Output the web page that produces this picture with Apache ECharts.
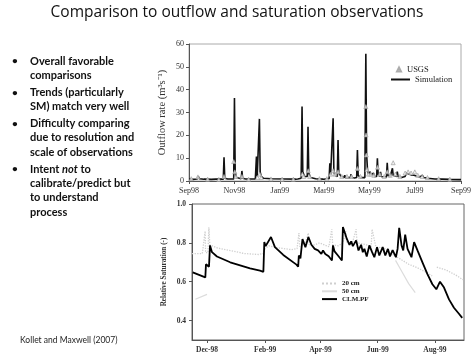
<!DOCTYPE html>
<html><head><meta charset="utf-8">
<script src="https://cdn.jsdelivr.net/npm/echarts@6/dist/echarts.min.js"></script>
<style>html,body{margin:0;padding:0;background:#fff}#c{width:474px;height:355px}</style>
</head><body><div id="c"></div>
<script>
const titleText = 'Comparison to outflow and saturation observations';
const bullets = [
  ['Overall favorable', 'comparisons'],
  ['Trends (particularly', 'SM) match very well'],
  ['Difficulty comparing', 'due to resolution and', 'scale of observations'],
  ['Intent {i|not} to', 'calibrate/predict but', 'to understand', 'process']
];
const citation = 'Kollet and Maxwell (2007)';

// Top chart: outflow (days since 1 Sep 1998)
const flowTickDays = [0, 61, 122, 181, 242, 303, 365];
const flowTickLabels = ['Sep98', 'Nov98', 'Jan99', 'Mar99', 'May99', 'Jul99', 'Sep99'];
const simDays = [0,5,11,12.5,14,20,30,36,37,38,46,47,48,52,60,61,62,63.5,66,70,71,72,76,89,90.5,91.5,93,94.5,95.5,97,100,110,130,143,145,146,150.5,151.7,152.7,155,158.7,159.7,160.7,163,170,180,188,189,190,192,193.4,194.4,196,199,200,201,204,208,209,210,216.5,217.5,218.5,222,225,226,227,230,236,237.3,238.3,239.5,241,243,244,246.5,247.5,248.5,251.8,252.8,253.8,256,257,258,262,265,266,267,270,272,273,274,276,278.5,279.5,280.5,285,290,292,294,296,299,302,303,305,310,313,315,320,330,340,350,365];
const simFlow = [0.8,0.7,0.9,1.9,1.0,0.8,0.7,0.8,1.5,0.8,0.8,10.4,1.2,0.9,0.9,36.3,4,1.5,1.0,1.0,4.4,1.2,0.9,0.9,10.7,2,1.5,27.2,4,2,1.2,1.0,0.9,0.8,1.5,0.9,1.2,32.6,4,2,2,23.8,3.5,1.5,1.0,0.8,1.0,7.8,2.5,2,27.5,4,2.5,2.0,18,3.5,2,1.5,2.5,1.5,1.5,3,1.5,1.3,1.5,13.6,2.5,1.5,1.5,55.7,12,5,3,4.1,2.5,2,3.5,2,2,10,3,2,4,2,1.8,1.8,8,2.5,2,2.5,5.6,2.5,2,2,4.1,2,1.5,2,3.5,4,3,2.5,2.5,3.2,2.2,1.8,2.5,1.5,1.2,0.9,0.8,0.7,0.6];
const usgsDays = [3,12,25,40,47,60,61.5,63,71,80,92,95,97,110,125,140,152,154,160,162,175,185,190,193.5,196,200,205,212,218,226,230,237.3,237.6,238,239,241,244,248,253,256,262,266,270,274,277,283,290,294,298,303,307,313,320,335,350];
const usgsFlow = [1.0,1.8,0.8,0.7,2,8.5,4,2,2,0.8,1.5,3,1.5,0.9,0.8,0.8,3,2,4.5,2,1,1,3,4.5,3,4,2,2,2,5.5,2,32.6,20.2,11.4,5,3,3,2.5,6,3,2,4,2.5,8,3,2,3.5,4,3.5,4,2.5,2,1.5,1,0.8];

// Bottom chart: relative saturation (days since 1 Dec 1998)
const satTickDays = [0, 62, 121, 182, 243];
const satTickLabels = ['Dec-98', 'Feb-99', 'Apr-99', 'Jun-99', 'Aug-99'];
const satYTicks = [0.4, 0.6, 0.8, 1.0];
const clmDays = [-15.2,-1.8,-1.1,0.7,2.1,3.2,5.3,10.6,24.7,45.9,56.5,57.6,60.1,61.1,62.5,64.3,68.2,72.4,81.3,95.4,97.2,97.9,99.6,101.8,104.9,108.1,111.3,114.8,118.4,121.9,123.7,126.1,129.7,133.2,134.3,136,139.6,143.8,144.9,147.3,149.1,151.9,153.7,155.5,157.2,159,161.5,164.3,166.1,167.8,170.3,173.1,176,178.4,181.3,183.7,187.3,190.1,192.9,195.1,197.9,201.4,202.5,203.2,204.9,207.4,209.2,211.3,213.8,218,220.8,224.4,229.7,235,240.3,244.5,248.4,252.7,258,263.3,268.6,272.1];
const clmSat = [0.648,0.622,0.69,0.68,0.677,0.787,0.752,0.73,0.70,0.669,0.657,0.66,0.651,0.804,0.783,0.778,0.83,0.778,0.738,0.688,0.677,0.735,0.72,0.82,0.778,0.83,0.79,0.769,0.761,0.743,0.761,0.743,0.731,0.709,0.787,0.756,0.735,0.709,0.882,0.847,0.82,0.79,0.808,0.783,0.778,0.813,0.761,0.79,0.752,0.769,0.73,0.787,0.752,0.726,0.778,0.735,0.778,0.735,0.769,0.73,0.763,0.726,0.717,0.769,0.877,0.787,0.761,0.842,0.769,0.726,0.804,0.761,0.70,0.639,0.587,0.561,0.60,0.57,0.509,0.466,0.435,0.414];
const cm20Days = [-16,-5,-3,-2,-1.5,1,2,3,10,25,40,55,60,62,66,75,90,96,98,99,105,108,109,115,120,125,130,133,134,140,145,148,149,155,159,160,170,175,176,180,190,198,205,215,225,235,240,null,245,255,265,273];
const cm20Sat = [0.745,0.745,0.745,0.86,0.75,0.75,0.88,0.79,0.775,0.76,0.745,0.74,0.745,0.77,0.785,0.775,0.765,0.77,0.85,0.78,0.8,0.85,0.79,0.79,0.8,0.79,0.78,0.87,0.79,0.785,0.8,0.86,0.8,0.8,0.87,0.8,0.79,0.78,0.87,0.78,0.77,0.74,0.72,0.69,0.67,0.645,0.63,null,0.675,0.66,0.635,0.61];
const cm50Days = [-12.4,0,null,201,208,215,222];
const cm50Sat = [0.51,0.535,null,0.71,0.65,0.59,0.544];

const zip = (a, b) => a.map((d, i) => (d === null ? null : [d, b[i]]));
const lookup = (days, labels) => v => { const i = days.indexOf(v); return i >= 0 ? labels[i] : ''; };

const serif = 'Liberation Serif';
const sans = 'Lato';

const graphics = [{
  type: 'text', left: 'center', top: 5,
  style: { text: titleText, fontFamily: 'Open Sans', fontSize: 15.5, fill: '#111' }
}];
let y = 61;
bullets.forEach((lines) => {
  graphics.push({ type: 'text', x: 12, y: y, style: { text: '•', fontFamily: sans, fontSize: 10, fontWeight: 'bold', fill: '#111', verticalAlign: 'middle' } });
  lines.forEach((ln) => {
    graphics.push({ type: 'text', x: 30, y: y, style: {
      text: ln, fontFamily: sans, fontSize: 11, fontWeight: 'bold', fill: '#111', verticalAlign: 'middle',
      rich: { i: { fontFamily: sans, fontSize: 11, fontWeight: 'bold', fontStyle: 'italic', fill: '#111' } }
    } });
    y += 14.3;
  });
  y += 2.7;
});
graphics.push({ type: 'text', x: 20, y: 340, style: { text: citation, fontFamily: sans, fontSize: 8.5, fill: '#222', verticalAlign: 'middle' } });

const chart = echarts.init(document.getElementById('c'), null, { renderer: 'canvas' });
chart.setOption({
  backgroundColor: '#fff',
  animation: false,
  graphic: graphics,
  legend: [
    { data: [{ name: 'USGS', icon: 'triangle' }], left: 396, top: 65, padding: 0, itemWidth: 4, itemHeight: 4, itemGap: 2,
      textStyle: { fontFamily: serif, fontSize: 8.5, color: '#222', padding: [0, 0, 0, 1] } },
    { data: ['Simulation'], left: 390, top: 75, padding: 0, itemWidth: 19, itemHeight: 8, itemStyle: { opacity: 0 },
      textStyle: { fontFamily: serif, fontSize: 8.5, color: '#222' } },
    { data: ['20 cm', '50 cm', 'CLM.PF'], orient: 'vertical', left: 321, top: 280, padding: 0, itemWidth: 15, itemHeight: 5, itemGap: 0.8,
      itemStyle: { opacity: 0 },
      textStyle: { fontFamily: serif, fontSize: 7, fontWeight: 'bold', color: '#222' } }
  ],
  grid: [
    { left: 189, top: 44, width: 274, height: 137, show: true, borderColor: '#aaa', borderWidth: 1 },
    { left: 192, top: 204, width: 272, height: 136, show: true, borderColor: '#666', borderWidth: 1 }
  ],
  xAxis: [
    { type: 'value', gridIndex: 0, min: 0, max: 365,
      axisLine: { onZero: false, lineStyle: { color: '#555' } },
      axisTick: { customValues: flowTickDays, length: 3, lineStyle: { color: '#555' } },
      axisLabel: { customValues: flowTickDays, formatter: lookup(flowTickDays, flowTickLabels), fontFamily: serif, fontSize: 8, color: '#333', margin: 6 },
      splitLine: { show: false } },
    { type: 'value', gridIndex: 1, min: -16, max: 274,
      axisLine: { onZero: false, lineStyle: { color: '#555' } },
      axisTick: { customValues: satTickDays, length: 3, lineStyle: { color: '#555' } },
      axisLabel: { customValues: satTickDays, formatter: lookup(satTickDays, satTickLabels), fontFamily: serif, fontSize: 7.5, fontWeight: 'bold', color: '#333', margin: 6 },
      splitLine: { show: false } }
  ],
  yAxis: [
    { type: 'value', gridIndex: 0, min: 0, max: 60, interval: 10,
      name: 'Outflow rate (m³s⁻¹)', nameLocation: 'middle', nameGap: 21, nameMoveOverlap: false,
      nameTextStyle: { fontFamily: serif, fontSize: 10.5, color: '#333' },
      axisLine: { show: true, onZero: false, lineStyle: { color: '#555' } },
      axisTick: { show: true, length: 3, lineStyle: { color: '#555' } },
      axisLabel: { fontFamily: serif, fontSize: 8, color: '#333', margin: 5 },
      splitLine: { show: false } },
    { type: 'value', gridIndex: 1, min: 0.3, max: 1.0,
      name: 'Relative Saturation (-)', nameLocation: 'middle', nameGap: 24, nameMoveOverlap: false,
      nameTextStyle: { fontFamily: serif, fontSize: 7.2, fontWeight: 'bold', color: '#333' },
      axisLine: { show: true, onZero: false, lineStyle: { color: '#555' } },
      axisTick: { show: true, customValues: satYTicks, length: 3, lineStyle: { color: '#555' } },
      axisLabel: { customValues: satYTicks, formatter: v => v.toFixed(1), fontFamily: serif, fontSize: 7.5, fontWeight: 'bold', color: '#333', margin: 6 },
      splitLine: { show: false } }
  ],
  series: [
    { name: 'Simulation', type: 'line', xAxisIndex: 0, yAxisIndex: 0, data: zip(simDays, simFlow),
      symbol: 'none', lineStyle: { color: '#111', width: 1.6 }, itemStyle: { color: '#111' }, z: 2 },
    { name: 'USGS', type: 'scatter', xAxisIndex: 0, yAxisIndex: 0, data: zip(usgsDays, usgsFlow),
      symbol: 'triangle', symbolSize: 4, itemStyle: { color: '#eee', borderColor: '#999', borderWidth: 0.8 }, z: 3 },
    { name: '20 cm', type: 'line', xAxisIndex: 1, yAxisIndex: 1, data: zip(cm20Days, cm20Sat),
      symbol: 'none', connectNulls: false, lineStyle: { color: '#cfcfcf', width: 1.3, type: 'dotted' }, itemStyle: { color: '#cfcfcf' } },
    { name: '50 cm', type: 'line', xAxisIndex: 1, yAxisIndex: 1, data: zip(cm50Days, cm50Sat),
      symbol: 'none', connectNulls: false, lineStyle: { color: '#dcdcdc', width: 1.2 }, itemStyle: { color: '#dcdcdc' } },
    { name: 'CLM.PF', type: 'line', xAxisIndex: 1, yAxisIndex: 1, data: zip(clmDays, clmSat),
      symbol: 'none', lineStyle: { color: '#000', width: 1.8 }, itemStyle: { color: '#000' }, z: 3 }
  ]
});
</script></body></html>
